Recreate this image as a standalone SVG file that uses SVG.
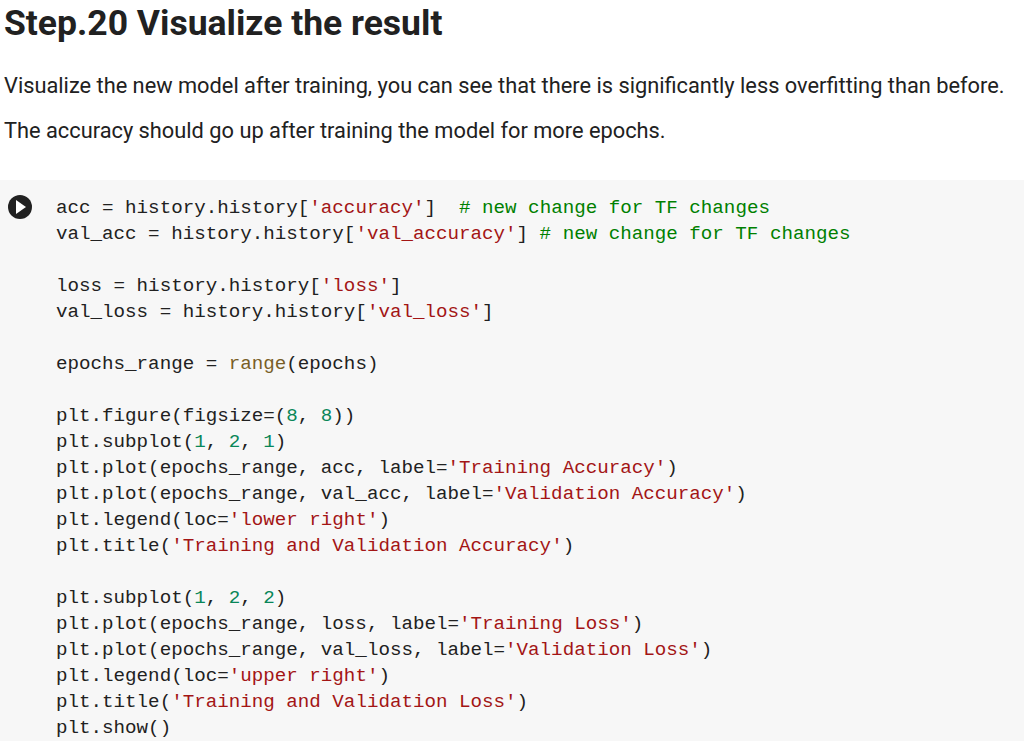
<svg xmlns="http://www.w3.org/2000/svg" width="1024" height="741" viewBox="0 0 1024 741">
<style>
.t{font-family:Roboto,"Liberation Sans",sans-serif;fill:#212121}
.c{font-family:"Liberation Mono",monospace;font-size:19.2px;fill:#212121;white-space:pre}
.s{fill:#a31515}.g{fill:#008000}.n{fill:#098658}.f{fill:#795e26}
</style>
<rect width="1024" height="741" fill="#fff"/>
<text class="t" x="4" y="35" font-size="35.5" font-weight="bold">Step.20 Visualize the result</text>
<text class="t" x="4" y="93" font-size="21.8">Visualize the new model after training, you can see that there is significantly less overfitting than before.</text>
<text class="t" x="4" y="138" font-size="21.8">The accuracy should go up after training the model for more epochs.</text>
<rect x="0" y="180" width="1024" height="561" fill="#f7f7f7"/>
<g id="run"><circle cx="20" cy="207" r="12" fill="#212121"/><path d="M16 200 L26 207 L16 214 Z" fill="#fff"/></g>
<g id="code" xml:space="preserve">
<text class="c" x="56" y="213">acc = history.history[<tspan class="s">'accuracy'</tspan>]  <tspan class="g"># new change for TF changes</tspan></text>
<text class="c" x="56" y="239">val_acc = history.history[<tspan class="s">'val_accuracy'</tspan>] <tspan class="g"># new change for TF changes</tspan></text>
<text class="c" x="56" y="291">loss = history.history[<tspan class="s">'loss'</tspan>]</text>
<text class="c" x="56" y="317">val_loss = history.history[<tspan class="s">'val_loss'</tspan>]</text>
<text class="c" x="56" y="369">epochs_range = <tspan class="f">range</tspan>(epochs)</text>
<text class="c" x="56" y="421">plt.figure(figsize=(<tspan class="n">8</tspan>, <tspan class="n">8</tspan>))</text>
<text class="c" x="56" y="447">plt.subplot(<tspan class="n">1</tspan>, <tspan class="n">2</tspan>, <tspan class="n">1</tspan>)</text>
<text class="c" x="56" y="473">plt.plot(epochs_range, acc, label=<tspan class="s">'Training Accuracy'</tspan>)</text>
<text class="c" x="56" y="499">plt.plot(epochs_range, val_acc, label=<tspan class="s">'Validation Accuracy'</tspan>)</text>
<text class="c" x="56" y="525">plt.legend(loc=<tspan class="s">'lower right'</tspan>)</text>
<text class="c" x="56" y="551">plt.title(<tspan class="s">'Training and Validation Accuracy'</tspan>)</text>
<text class="c" x="56" y="603">plt.subplot(<tspan class="n">1</tspan>, <tspan class="n">2</tspan>, <tspan class="n">2</tspan>)</text>
<text class="c" x="56" y="629">plt.plot(epochs_range, loss, label=<tspan class="s">'Training Loss'</tspan>)</text>
<text class="c" x="56" y="655">plt.plot(epochs_range, val_loss, label=<tspan class="s">'Validation Loss'</tspan>)</text>
<text class="c" x="56" y="681">plt.legend(loc=<tspan class="s">'upper right'</tspan>)</text>
<text class="c" x="56" y="707">plt.title(<tspan class="s">'Training and Validation Loss'</tspan>)</text>
<text class="c" x="56" y="733">plt.show()</text>
</g>
</svg>
